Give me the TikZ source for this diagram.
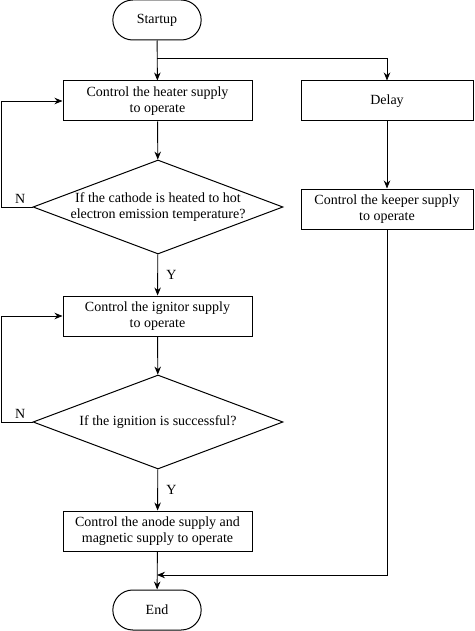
\documentclass[tikz,border=0pt]{standalone}
\usepackage{fontspec}
\setmainfont{Liberation Serif}
\usetikzlibrary{arrows.meta, shapes, positioning}
\tikzset{processnode/.style={rectangle, draw=black, line width=1pt, minimum width=189pt, minimum height=40pt, inner sep=1pt, align=center, font=\fontsize{14}{16}\selectfont},
sideprocessnode/.style={processnode, minimum width=172pt},
decisionnode/.style={diamond, draw=black, line width=1pt, aspect=2.66, minimum width=250pt, minimum height=94pt, inner sep=-3pt, align=center, font=\fontsize{14}{16}\selectfont},
terminalnode/.style={rounded rectangle, draw=black, line width=1pt, minimum width=95pt, minimum height=40pt, font=\fontsize{14}{16}\selectfont}}

\begin{document}
\begin{tikzpicture}[
        x=1pt, y=-1pt,
        line join=miter,
        flow/.style={-{Stealth[length=8pt, width=6.5pt]}, line width=0.9pt},
        answer/.style={font=\fontsize{14}{16}\selectfont}
    ]
        \useasboundingbox (0, 0) rectangle (474, 631);
        % Left column
        \node[terminalnode] (startup) at (157, 20) {Startup};
        \node[processnode] (heater) at (157.5, 101) {Control the heater supply\\to operate};
        \node[decisionnode] (heated) at (158, 207) {If the cathode is heated to hot\\electron emission temperature?};
        \node[processnode] (ignitor) at (157.5, 316) {Control the ignitor supply\\to operate};
        \node[decisionnode] (ignited) at (158, 422) {If the ignition is successful?};
        \node[processnode] (anode) at (157.5, 531) {Control the anode supply and\\magnetic supply to operate};
        \node[terminalnode] (end) at (157, 610) {End};
        % Right column
        \node[sideprocessnode] (delay) at (387, 101) {Delay};
        \node[sideprocessnode] (keeper) at (387, 209) {Control the keeper supply\\to operate};
        \coordinate (split) at (157, 58);
        \coordinate (merge) at (157, 575);
        % Connectors
        \draw[flow] (startup) -- (heater);
        \draw[flow] (split) -| (delay);
        \draw[flow] (heater) -- (heated);
        \draw[flow] (heated.west) -- ++(-31, 0) node[answer, above, pos=0.4] {N} |- (heater.west);
        \draw[flow] (heated) -- node[answer, right=5pt] {Y} (ignitor);
        \draw[flow] (ignitor) -- (ignited);
        \draw[flow] (ignited.west) -- ++(-31, 0) node[answer, above, pos=0.4] {N} |- (ignitor.west);
        \draw[flow] (ignited) -- node[answer, right=5pt] {Y} (anode);
        \draw[flow] (anode) -- (end);
        \draw[flow] (delay) -- (keeper);
        \draw[flow] (keeper.south) |- (merge);
    \end{tikzpicture}
\end{document}
